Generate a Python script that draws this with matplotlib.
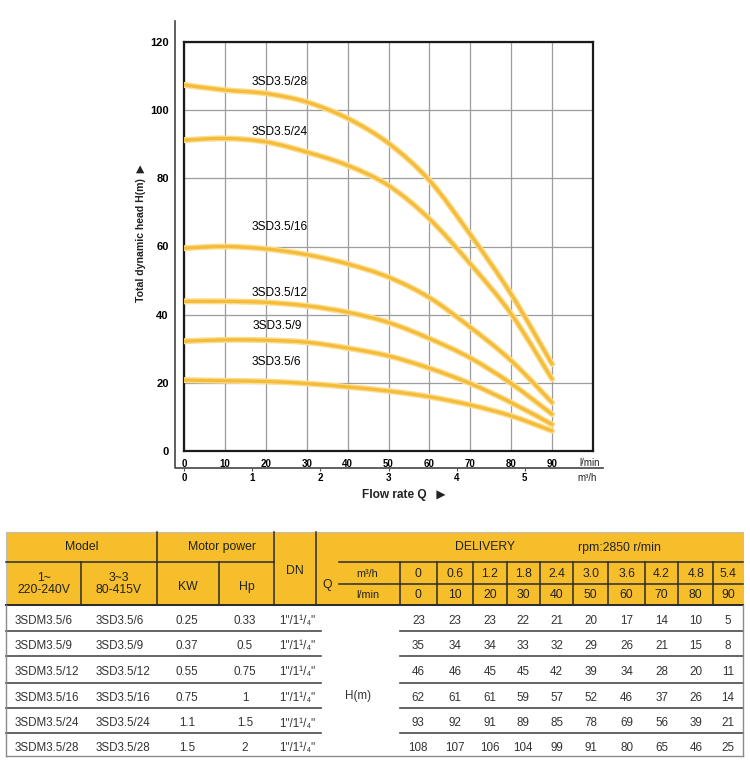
import matplotlib
matplotlib.use("Agg")
import matplotlib.pyplot as plt
import matplotlib.patheffects as pe
from matplotlib.patches import Rectangle, PathPatch
from matplotlib.path import Path

plt.rcParams['font.family'] = ['Liberation Sans', 'DejaVu Sans']

# ---- curve data (l/min vs head in m)
flow_lpm = [0, 10, 20, 30, 40, 50, 60, 70, 80, 90]
head_6 = [20.8, 20.6, 20.4, 19.8, 18.8, 17.6, 15.9, 13.5, 10.3, 5.9]
head_9 = [32.2, 32.6, 32.5, 31.9, 30.2, 27.9, 24.3, 19.8, 14.2, 7.8]
head_12 = [43.9, 43.9, 43.6, 42.6, 40.7, 37.7, 33.0, 27.3, 19.8, 10.8]
head_16 = [59.5, 60.0, 59.3, 57.6, 54.9, 51.0, 45.0, 36.3, 26.5, 14.2]
head_24 = [91.2, 91.7, 90.7, 87.7, 83.8, 77.9, 68.1, 54.9, 40.2, 21.1]
head_28 = [107.4, 105.9, 104.9, 102.4, 97.6, 90.3, 79.4, 63.5, 46.0, 25.5]
curve_names = ['3SD3.5/6', '3SD3.5/9', '3SD3.5/12', '3SD3.5/16', '3SD3.5/24', '3SD3.5/28']
# where each curve name sits (l/min, m)
label_q = [22.6, 22.7, 23.5, 23.4, 23.4, 23.4]
label_h = [26.0, 36.8, 46.4, 65.7, 93.6, 108.2]

y_ticks = [0, 20, 40, 60, 80, 100, 120]
m3h_ticks = [0, 1, 2, 3, 4, 5]

# ---- table data
models_1ph = ['3SDM3.5/6', '3SDM3.5/9', '3SDM3.5/12', '3SDM3.5/16', '3SDM3.5/24', '3SDM3.5/28']
models_3ph = ['3SD3.5/6', '3SD3.5/9', '3SD3.5/12', '3SD3.5/16', '3SD3.5/24', '3SD3.5/28']
power_kw = ['0.25', '0.37', '0.55', '0.75', '1.1', '1.5']
power_hp = ['0.33', '0.5', '0.75', '1', '1.5', '2']
dn_size = '1"/1\u00b9/\u2084"'
q_m3h = ['0', '0.6', '1.2', '1.8', '2.4', '3.0', '3.6', '4.2', '4.8', '5.4']
q_lmin = ['0', '10', '20', '30', '40', '50', '60', '70', '80', '90']
head_table = [
    [23, 23, 23, 22, 21, 20, 17, 14, 10, 5],
    [35, 34, 34, 33, 32, 29, 26, 21, 15, 8],
    [46, 46, 45, 45, 42, 39, 34, 28, 20, 11],
    [62, 61, 61, 59, 57, 52, 46, 37, 26, 14],
    [93, 92, 91, 89, 85, 78, 69, 56, 39, 21],
    [108, 107, 106, 104, 99, 91, 80, 65, 46, 25],
]

GOLD = '#F7BE2B'
CURVE = '#F4BC3A'
GLOW = '#FBDD8E'
TXT = '#222222'
W, H = 750, 780


def fx(px):
    return px / W


def fy(py):
    return 1 - py / H


def smooth_path(xs, ys):
    # catmull-rom through the read points, drawn as cubic bezier segments
    pts = list(zip(xs, ys))
    pad = [pts[0]] + pts + [pts[-1]]
    verts = [pts[0]]
    codes = [Path.MOVETO]
    for i in range(1, len(pad) - 2):
        p0, p1, p2, p3 = pad[i - 1], pad[i], pad[i + 1], pad[i + 2]
        c1 = (p1[0] + (p2[0] - p0[0]) / 6, p1[1] + (p2[1] - p0[1]) / 6)
        c2 = (p2[0] - (p3[0] - p1[0]) / 6, p2[1] - (p3[1] - p1[1]) / 6)
        verts += [c1, c2, p2]
        codes += [Path.CURVE4] * 3
    return Path(verts, codes)


def plot_curves(fig):
    left, right, top, bottom = 184, 593, 42, 451
    ax = fig.add_axes([fx(left), fy(bottom), fx(right - left), (bottom - top) / H])
    ax.set_xlim(0, 100)
    ax.set_ylim(0, 120)

    heads = [head_6, head_9, head_12, head_16, head_24, head_28]
    for h in heads:
        patch = PathPatch(smooth_path(flow_lpm, h), fill=False, edgecolor=CURVE,
                          lw=2.3, capstyle='round', joinstyle='round', zorder=3,
                          path_effects=[pe.Stroke(linewidth=4.3, foreground=GLOW),
                                        pe.Normal()])
        ax.add_patch(patch)

    for name, q, h in zip(curve_names, label_q, label_h):
        ax.text(q, h, name, fontsize=8.6, ha='center', va='center', color='black', zorder=4)

    ax.set_xticks(flow_lpm)
    ax.set_yticks(y_ticks)
    ax.grid(True, color='#9c9c9c', lw=0.9)
    ax.set_axisbelow(True)
    ax.tick_params(length=0)
    ax.tick_params(axis='y', pad=11, labelsize=8)
    ax.tick_params(axis='x', pad=5.5, labelsize=7)
    for lab in ax.get_yticklabels() + ax.get_xticklabels():
        lab.set_fontweight('bold')
    for sp in ax.spines.values():
        sp.set_linewidth(1.6)
        sp.set_color('#1a1a1a')

    # second scale in m3/h under the l/min scale
    sec = ax.secondary_xaxis(-(468 - bottom) / (bottom - top),
                             functions=(lambda q: q * 0.06, lambda m: m / 0.06))
    sec.set_xticks(m3h_ticks)
    sec.spines['bottom'].set_visible(False)
    sec.tick_params(length=2, width=0.8, color='#555555', pad=1.5, labelsize=7)
    for lab in sec.get_xticklabels():
        lab.set_fontweight('bold')
    return ax


def draw_table(ov):
    cols = [6, 81, 157, 219, 274, 316, 339.3, 400, 436.7, 473.3, 506.7, 540,
            573.3, 608.3, 645, 678.3, 713.3, 742.7]
    hy = [531.7, 561.5, 584.3, 605]
    rows = [605, 630.7, 656, 682.7, 707.7, 733.3, 756]
    dark = '#2b2b2b'
    kw = dict(fontsize=8.8, color=TXT, ha='center', va='center')

    ov.add_patch(Rectangle((cols[0], hy[0]), cols[-1] - cols[0], hy[-1] - hy[0],
                           facecolor=GOLD, edgecolor='#bdbdbd', lw=0.8))
    # header rules
    ov.plot([cols[0], cols[4]], [hy[1], hy[1]], color=dark, lw=1.1)
    ov.plot([cols[6], cols[-1]], [hy[1], hy[1]], color=dark, lw=1.1)
    ov.plot([cols[6], cols[-1]], [hy[2], hy[2]], color=dark, lw=1.1)
    ov.plot([cols[0], cols[-1]], [hy[3], hy[3]], color=dark, lw=1.4)
    for x in [cols[2], cols[4], cols[5]]:
        ov.plot([x, x], [hy[0], hy[3]], color=dark, lw=1.1)
    for x in [cols[1], cols[3]]:
        ov.plot([x, x], [hy[1], hy[3]], color=dark, lw=1.1)
    for x in cols[7:-1]:
        ov.plot([x, x], [hy[1], hy[3]], color=dark, lw=1.1)

    ov.text(81.5, 547, 'Model', **kw)
    ov.text(43.5, 584, '1~\n220-240V', linespacing=1.05, **kw)
    ov.text(119, 584, '3~3\n80-415V', linespacing=1.05, **kw)
    ov.text(222, 547, 'Motor power', **kw)
    ov.text(188, 587, 'KW', **kw)
    ov.text(247, 587, 'Hp', **kw)
    ov.text(295, 571, 'DN', **kw)
    ov.text(327, 585, 'Q', **kw)
    ov.text(485, 547.5, 'DELIVERY', **kw)
    ov.text(619, 547.5, 'rpm:2850 r/min', **kw)
    ov.text(367, 574, 'm\u00b3/h', fontsize=7.8, color=TXT, ha='center', va='center')
    ov.text(368, 595.5, 'l/min', fontsize=7.8, color=TXT, ha='center', va='center')
    centers = [(a + b) / 2 for a, b in zip(cols[7:-1], cols[8:])]
    for cx, m3, lm in zip(centers, q_m3h, q_lmin):
        ov.text(cx, 574, m3, **kw)
        ov.text(cx, 595.5, lm, **kw)

    # body
    line = '#4a4a4a'
    for y in rows[1:-1]:
        ov.plot([cols[0], 320.5], [y, y], color=line, lw=1.2)
        ov.plot([cols[7], cols[-1]], [y, y], color=line, lw=1.2)
    ov.plot([cols[0], cols[-1]], [rows[-1], rows[-1]], color='#8a8a8a', lw=1.0)
    ov.plot([cols[0], cols[0]], [rows[0], rows[-1]], color='#8a8a8a', lw=1.0)
    ov.plot([cols[-1], cols[-1]], [rows[0], rows[-1]], color='#8a8a8a', lw=1.0)

    bkw = dict(fontsize=8.4, color='#333333', va='center')
    for i in range(len(models_1ph)):
        y = (rows[i] + rows[i + 1]) / 2 + 3
        ov.text(15, y, models_1ph[i], ha='left', **bkw)
        ov.text(96, y, models_3ph[i], ha='left', **bkw)
        ov.text(187, y, power_kw[i], ha='center', **bkw)
        ov.text(245, y, power_hp[i], ha='center', **bkw)
        ov.text(297, y, dn_size, ha='center', **bkw)
        for cx, v in zip(centers, head_table[i]):
            ov.text(cx, y, str(v), ha='center', **bkw)
    ov.text(358, 696, 'H(m)', ha='center', **bkw)


def main():
    fig = plt.figure(figsize=(7.5, 7.8), dpi=100)

    ov = fig.add_axes([0, 0, 1, 1], zorder=0)
    ov.set_xlim(0, W)
    ov.set_ylim(H, 0)
    ov.axis('off')

    plot_curves(fig)

    # outer L frame of the chart and axis titles
    ov.plot([175, 175, 603], [21, 468, 468], color='#444444', lw=1.2)
    ov.text(141, 233, 'Total dynamic head H(m)  \u25b6', rotation=90, fontsize=7.6,
            fontweight='bold', ha='center', va='center', color=TXT)
    ov.text(404, 495, 'Flow rate Q   \u25b6', fontsize=8.6, fontweight='bold',
            ha='center', va='center', color=TXT)
    ov.text(590, 463, 'l/min', fontsize=7, ha='center', va='center', color=TXT)
    ov.text(587, 478, 'm\u00b3/h', fontsize=7, ha='center', va='center', color=TXT)

    draw_table(ov)

    fig.savefig('out.png', dpi=100)


main()
